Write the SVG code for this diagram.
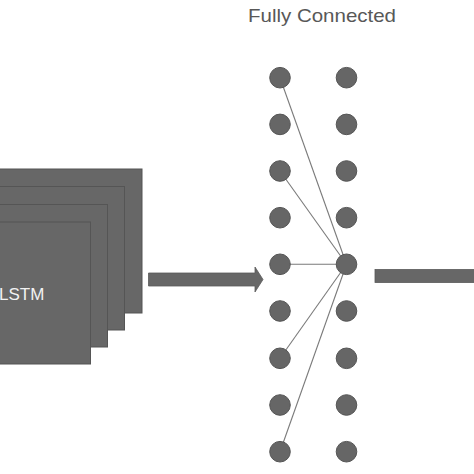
<svg xmlns="http://www.w3.org/2000/svg" width="474" height="474" viewBox="0 0 474 474">
<style>
.layer{fill:#676767;stroke:#555;stroke-width:1}
.n{fill:#666;stroke:#555;stroke-width:1}
.c{stroke:#7a7a7a;stroke-width:1.1;fill:none}
.t{font-family:"Liberation Sans",Arial,sans-serif}
</style>
<rect width="474" height="474" fill="#fff"/>
<text class="t" x="248" y="21.5" font-size="18.5" fill="#585858" textLength="148" lengthAdjust="spacingAndGlyphs">Fully Connected</text>
<g id="lstm">
<rect class="layer" x="-10" y="169" width="152" height="144"/>
<rect class="layer" x="-10" y="186.5" width="134.5" height="143.5"/>
<rect class="layer" x="-10" y="204.5" width="117.5" height="142.5"/>
<rect class="layer" x="-10" y="222" width="100.5" height="142"/>
<text class="t" x="-1" y="300" font-size="17" fill="#f2f2f2">LSTM</text>
</g>
<g id="arrow-in">
<polygon fill="#676767" stroke="#5a5a5a" stroke-width="0.8" points="148.5,273 255,273 255,267 263,279.5 255,292 255,286 148.5,286"/>
</g>
<g id="arrow-out">
<rect x="375" y="269.5" width="100" height="13" fill="#676767" stroke="#5a5a5a" stroke-width="0.8"/>
</g>
<g id="connectors">
<line class="c" x1="280" y1="77.7" x2="346.5" y2="264.3"/>
<line class="c" x1="280" y1="171" x2="346.5" y2="264.3"/>
<line class="c" x1="280" y1="264.3" x2="346.5" y2="264.3"/>
<line class="c" x1="280" y1="358.3" x2="346.5" y2="264.3"/>
<line class="c" x1="280" y1="451.7" x2="346.5" y2="264.3"/>
</g>
<g id="layer-a">
<circle class="n" cx="280" cy="77.7" r="10.3"/>
<circle class="n" cx="280" cy="124.4" r="10.3"/>
<circle class="n" cx="280" cy="171" r="10.3"/>
<circle class="n" cx="280" cy="217.7" r="10.3"/>
<circle class="n" cx="280" cy="264.3" r="10.3"/>
<circle class="n" cx="280" cy="311" r="10.3"/>
<circle class="n" cx="280" cy="358.3" r="10.3"/>
<circle class="n" cx="280" cy="405" r="10.3"/>
<circle class="n" cx="280" cy="451.7" r="10.3"/>
</g>
<g id="layer-b">
<circle class="n" cx="346.5" cy="77.7" r="10.3"/>
<circle class="n" cx="346.5" cy="124.4" r="10.3"/>
<circle class="n" cx="346.5" cy="171" r="10.3"/>
<circle class="n" cx="346.5" cy="217.7" r="10.3"/>
<circle class="n" cx="346.5" cy="264.3" r="10.3"/>
<circle class="n" cx="346.5" cy="311" r="10.3"/>
<circle class="n" cx="346.5" cy="358.3" r="10.3"/>
<circle class="n" cx="346.5" cy="405" r="10.3"/>
<circle class="n" cx="346.5" cy="451.7" r="10.3"/>
</g>
</svg>
